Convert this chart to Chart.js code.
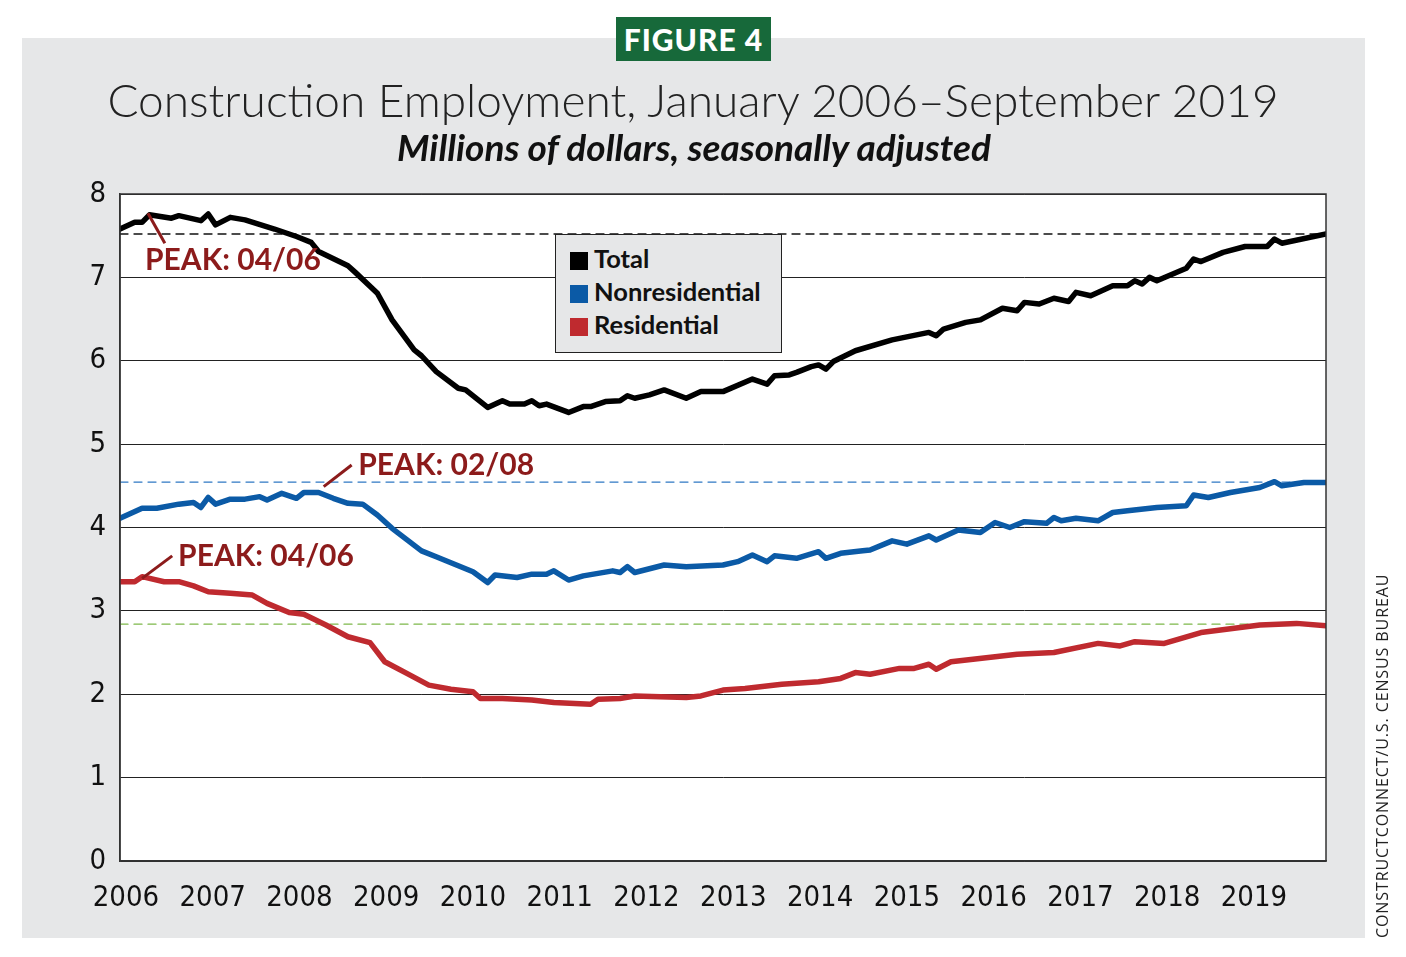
<!DOCTYPE html>
<html>
<head>
<meta charset="utf-8">
<script src="https://cdn.jsdelivr.net/npm/chart.js@4"></script>
<style>
  body { margin: 0; background: #fff; width: 1406px; height: 957px; position: relative; overflow: hidden; font-family: Lato, "Noto Sans", sans-serif; }
  #panel { position: absolute; left: 22px; top: 38px; width: 1343px; height: 900px; background: #e6e7e8; }
  #chart { position: absolute; left: 0; top: 0; }
  #badge { position: absolute; left: 616px; top: 17px; width: 155px; height: 44px; background: #17693a; color: #fff;
    font: 900 30px Lato, sans-serif; letter-spacing: 1px; text-align: center; line-height: 45px; }
  #title { position: absolute; left: 0; width: 1386px; top: 72px; text-align: center; font: 300 46px Lato, sans-serif; color: #222; }
  #subtitle { position: absolute; left: 0; width: 1388px; top: 124px; text-align: center; font: italic 700 37px Lato, sans-serif; color: #111; }
  #legend { position: absolute; left: 555px; top: 234px; width: 225px; height: 117px; background: #e6e7e8; border: 1.5px solid #222; }
  .item { position: absolute; left: 14px; font: 700 25.5px Lato, sans-serif; color: #111; height: 30px; line-height: 30px; }
  .item span { display: inline-block; width: 18px; height: 18px; margin-right: 6px; vertical-align: -2px; }
  #source { position: absolute; left: 1371px; top: 938px; transform-origin: 0 0; transform: rotate(-90deg);
    font: 400 16px "Open Sans", sans-serif; letter-spacing: 0.9px; color: #222; white-space: nowrap; }
</style>
</head>
<body>
<div id="panel"></div>
<canvas id="chart" width="1406" height="957"></canvas>
<div id="badge">FIGURE 4</div>
<div id="title">Construction Employment, January 2006–September 2019</div>
<div id="subtitle">Millions of dollars, seasonally adjusted</div>
<div id="legend"></div>
<div id="source">CONSTRUCTCONNECT/U.S. CENSUS BUREAU</div>
<script>
// months counted from January 2006 (0) to September 2019 (164)
const yearLabels = ['2006', '2007', '2008', '2009', '2010', '2011', '2012', '2013', '2014', '2015', '2016', '2017', '2018', '2019'];

const totalMonths = [0, 2, 3, 4, 7, 8, 11, 12, 13, 15, 17, 21, 24, 26, 27, 31, 32, 35, 37, 40, 41, 43, 46, 47, 50, 52, 53, 55, 56, 57, 58,
  61, 63, 64, 66, 68, 69, 70, 72, 74, 77, 79, 82, 86, 88, 89, 91, 92, 94, 95, 96, 97, 100, 105, 110, 111, 112, 115, 117, 120, 122,
  123, 125, 127, 129, 130, 132, 135, 137, 138, 139, 140, 141, 145, 146, 147, 150, 153, 156, 157, 158, 164];
const totalValues = [7.58, 7.66, 7.66, 7.75, 7.71, 7.74, 7.68, 7.76, 7.63, 7.72, 7.69, 7.58, 7.49, 7.42, 7.31, 7.14, 7.06, 6.81, 6.49, 6.13, 6.06, 5.87, 5.67, 5.65, 5.44, 5.52, 5.48, 5.48, 5.52, 5.46, 5.48,
  5.38, 5.45, 5.45, 5.51, 5.52, 5.58, 5.55, 5.59, 5.65, 5.55, 5.63, 5.63, 5.78, 5.72, 5.82, 5.83, 5.86, 5.93, 5.95, 5.90, 5.99, 6.12, 6.25, 6.34, 6.30, 6.38, 6.46, 6.49, 6.63, 6.60,
  6.70, 6.68, 6.75, 6.71, 6.82, 6.78, 6.90, 6.90, 6.96, 6.92, 7.00, 6.96, 7.11, 7.22, 7.19, 7.30, 7.37, 7.37, 7.46, 7.41, 7.52];

const nonresMonths = [0, 3, 5, 8, 10, 11, 12, 13, 15, 17, 19, 20, 22, 24, 25, 27, 29, 31, 33, 35, 37, 41, 43, 48, 50, 51, 54, 56, 58, 59,
  61, 63, 67, 68, 69, 70, 74, 77, 82, 84, 86, 88, 89, 92, 95, 96, 98, 101, 102, 105, 107, 110, 111, 114, 117, 119, 121, 123, 126, 127,
  128, 130, 133, 135, 137, 141, 145, 146, 148, 151, 155, 157, 158, 161, 164];
const nonresValues = [4.11, 4.23, 4.23, 4.28, 4.30, 4.24, 4.36, 4.28, 4.34, 4.34, 4.37, 4.33, 4.41, 4.35, 4.42, 4.42, 4.35, 4.29, 4.28, 4.15, 3.99, 3.72, 3.65, 3.47, 3.34, 3.43, 3.40, 3.44, 3.44, 3.48,
  3.37, 3.42, 3.48, 3.46, 3.53, 3.46, 3.55, 3.53, 3.55, 3.59, 3.67, 3.59, 3.66, 3.63, 3.71, 3.63, 3.69, 3.72, 3.73, 3.84, 3.80, 3.90, 3.85, 3.97, 3.94, 4.06, 4.00, 4.07, 4.05, 4.12,
  4.08, 4.11, 4.08, 4.18, 4.20, 4.24, 4.26, 4.39, 4.36, 4.42, 4.48, 4.55, 4.50, 4.54, 4.54];

const resMonths = [0, 2, 3, 6, 8, 10, 12, 15, 18, 20, 23, 25, 28, 31, 34, 36, 39, 42, 45, 48, 49, 52, 56, 59, 64, 65, 68, 70, 77, 79,
  82, 85, 90, 95, 98, 100, 102, 106, 108, 110, 111, 113, 122, 127, 133, 136, 138, 142, 147, 155, 160, 164];
const resValues = [3.35, 3.35, 3.41, 3.35, 3.35, 3.30, 3.23, 3.21, 3.19, 3.09, 2.98, 2.96, 2.83, 2.69, 2.62, 2.39, 2.25, 2.11, 2.06, 2.03, 1.95, 1.95, 1.93, 1.90, 1.88, 1.94, 1.95, 1.98, 1.96, 1.98,
  2.05, 2.07, 2.12, 2.15, 2.19, 2.26, 2.24, 2.31, 2.31, 2.36, 2.30, 2.39, 2.48, 2.50, 2.61, 2.58, 2.63, 2.61, 2.74, 2.83, 2.85, 2.82];

// dashed reference levels
const peakTotal = 7.52, peakNonres = 4.545, peakRes = 2.84;

const firstMonth = 0, lastMonth = 164;

const colors = { total: '#000000', nonres: '#0b5aa6', res: '#bf2a2f', peak: '#8c1b1b' };

function points(months, values) {
  return months.map((m, i) => ({ x: m, y: values[i] }));
}

function refLine(value, color) {
  return {
    label: '', data: [{ x: firstMonth, y: value }, { x: lastMonth, y: value }],
    borderColor: color, borderWidth: 1.3, borderDash: [8, 6], pointRadius: 0, order: 10
  };
}

// annotation text and leader lines, anchored in data units (month, value)
const peakNotes = [
  { text: 'PEAK: 04/06', tx: 3.4, ty: 7.2, line: [3.8, 7.77, 6.1, 7.41] },
  { text: 'PEAK: 02/08', tx: 32.4, ty: 4.74, line: [27.7, 4.49, 31.5, 4.75] },
  { text: 'PEAK: 04/06', tx: 7.9, ty: 3.66, line: [3.0, 3.39, 7.1, 3.66] },
];

const plotFrame = {
  id: 'plotFrame',
  beforeDraw(chart) {
    const { ctx, chartArea: a } = chart;
    ctx.save();
    ctx.fillStyle = '#ffffff';
    ctx.fillRect(a.left, a.top, a.right - a.left, a.bottom - a.top);
    ctx.restore();
  },
  afterDraw(chart) {
    const { ctx, chartArea: a, scales } = chart;
    ctx.save();
    ctx.strokeStyle = '#333';
    ctx.lineWidth = 1.5;
    ctx.strokeRect(a.left, a.top, a.right - a.left, a.bottom - a.top);

    ctx.fillStyle = colors.peak;
    ctx.strokeStyle = colors.peak;
    ctx.lineWidth = 3;
    ctx.font = '700 30px Lato, sans-serif';
    ctx.textBaseline = 'middle';
    peakNotes.forEach(n => {
      ctx.beginPath();
      ctx.moveTo(scales.x.getPixelForValue(n.line[0]), scales.y.getPixelForValue(n.line[1]));
      ctx.lineTo(scales.x.getPixelForValue(n.line[2]), scales.y.getPixelForValue(n.line[3]));
      ctx.stroke();
      ctx.fillText(n.text, scales.x.getPixelForValue(n.tx), scales.y.getPixelForValue(n.ty));
    });
    ctx.restore();
  }
};

const tickFont = { family: '"DejaVu Sans Condensed", sans-serif', size: 29 };

const chart = new Chart(document.getElementById('chart'), {
  type: 'line',
  data: {
    datasets: [
      { label: 'Total', data: points(totalMonths, totalValues), borderColor: colors.total, backgroundColor: colors.total, borderWidth: 5.5, pointRadius: 0, order: 1 },
      { label: 'Nonresidential', data: points(nonresMonths, nonresValues), borderColor: colors.nonres, backgroundColor: colors.nonres, borderWidth: 5.5, pointRadius: 0, order: 2 },
      { label: 'Residential', data: points(resMonths, resValues), borderColor: colors.res, backgroundColor: colors.res, borderWidth: 5.5, pointRadius: 0, order: 3 },
      refLine(peakTotal, '#111'),
      refLine(peakNonres, '#2f78c4'),
      refLine(peakRes, '#7db84a'),
    ]
  },
  options: {
    responsive: false,
    animation: false,
    layout: { padding: { top: 194, right: 80, bottom: 36, left: 0 } },
    elements: { line: { tension: 0, borderCapStyle: 'round', borderJoinStyle: 'round' } },
    plugins: { legend: { display: false }, tooltip: { enabled: false } },
    scales: {
      x: {
        type: 'linear', min: firstMonth, max: lastMonth,
        grid: { display: false },
        border: { display: true, color: '#333', width: 1.5 },
        afterFit: s => { s.height = 60; },
        afterBuildTicks: s => {
          // year labels are spread evenly under the plot
          const step = 11.8;
          s.ticks = yearLabels.map((y, i) => ({ value: 0.8 + i * step }));
        },
        ticks: {
          autoSkip: false, maxRotation: 0, padding: 12, color: '#111', font: tickFont,
          callback: (v, i) => yearLabels[i]
        }
      },
      y: {
        min: 0, max: 8,
        grid: { color: '#222', lineWidth: 1, drawTicks: false },
        border: { display: true, color: '#333', width: 1.5 },
        afterFit: s => { s.width = 120; },
        ticks: { stepSize: 1, padding: 14, color: '#111', font: tickFont }
      }
    }
  },
  plugins: [plotFrame]
});

// legend box built from the three series
const legend = document.getElementById('legend');
chart.data.datasets.slice(0, 3).forEach((ds, i) => {
  const item = document.createElement('div');
  item.className = 'item';
  item.style.top = (8 + i * 33) + 'px';
  item.innerHTML = '<span style="background:' + ds.borderColor + '"></span>' + ds.label;
  legend.appendChild(item);
});
</script>
</body>
</html>
